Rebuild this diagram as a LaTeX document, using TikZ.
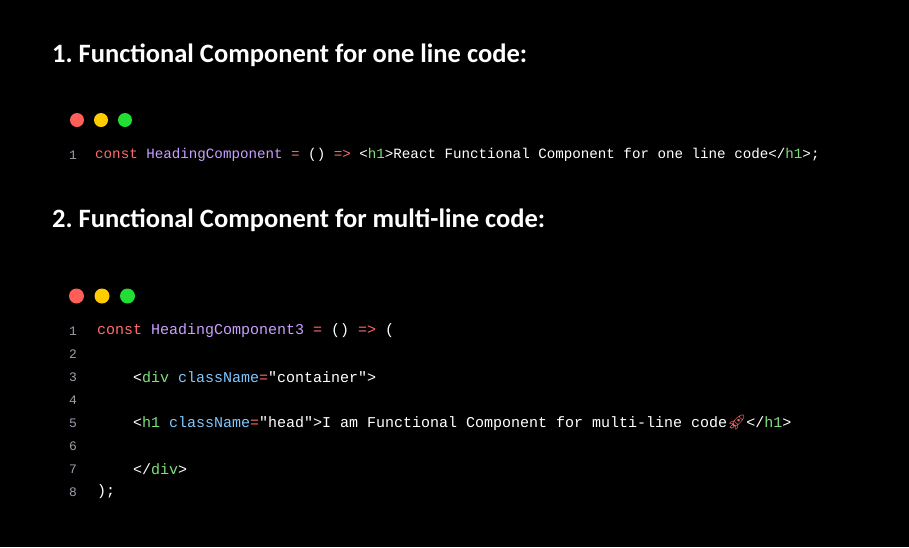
\documentclass[tikz,border=0pt]{standalone}
\usepackage{fontspec}
\setmainfont{Carlito}
\setmonofont{Liberation Mono}
\newfontfamily\emojifont{Noto Emoji}
\usetikzlibrary{positioning}
\definecolor{kwred}{HTML}{FF6B6B}
\definecolor{idpurple}{HTML}{C9A0FF}
\definecolor{taggreen}{HTML}{7EE07A}
\definecolor{attrblue}{HTML}{7FC8FF}
\definecolor{numgray}{HTML}{9AA0AA}
\definecolor{dotred}{HTML}{FF5F57}
\definecolor{dotyellow}{HTML}{FFCC00}
\definecolor{dotgreen}{HTML}{22DD33}
\newcommand{\kw}[1]{\textcolor{kwred}{#1}}
\newcommand{\idn}[1]{\textcolor{idpurple}{#1}}
\newcommand{\tg}[1]{\textcolor{taggreen}{#1}}
\newcommand{\at}[1]{\textcolor{attrblue}{#1}}
\begin{document}
\begin{tikzpicture}[x=1pt,y=-1pt,
  heading/.style={anchor=west,text=white,font=\bfseries\fontsize{26.5}{30}\selectfont,inner sep=0pt},
  lineno/.style={anchor=west,text=numgray,font=\ttfamily\fontsize{13}{15}\selectfont,inner sep=0pt},
  codeline/.style={anchor=west,text=white,font=\ttfamily\fontsize{14.2}{16}\selectfont,inner sep=0pt},
  bigcode/.style={codeline,font=\ttfamily\fontsize{15}{17}\selectfont}]
\fill[black] (0,0) rectangle (909,547);
\useasboundingbox (0,0) rectangle (909,547);
% headings
\node[heading] (h1) at (52,55) {1.\ Functional Component for one line code:};
\node[heading] (h2) at (52,220) {2.\ Functional Component for multi-line code:};
% window dots
\foreach \c [count=\i] in {dotred,dotyellow,dotgreen}{
  \fill[\c] (53+24*\i,120) circle (7);
  \fill[\c] (51+25.5*\i,296) circle (7.5);
}
% one line code
\node[lineno] (n1) at (69,155) {1};
\node[codeline] (c1) at (95,155) {\kw{const} \idn{HeadingComponent} \kw{=} () \kw{=>} <\tg{h1}>React Functional Component for one line code</\tg{h1}>;};
% multi-line code
\foreach \n in {1,...,8}
  \node[lineno] (m\n) at (69,308+23*\n) {\n};
\node[bigcode] (l1) at (97,331) {\kw{const} \idn{HeadingComponent3} \kw{=} () \kw{=>} (};
\node[bigcode] (l3) at (133,377) {<\tg{div} \at{className}\kw{=}"container">};
\node[bigcode] (l5) at (133,423) {<\tg{h1} \at{className}\kw{=}"head">I am Functional Component for multi-line code{\emojifont\textcolor{kwred}{🚀}}</\tg{h1}>};
\node[bigcode] (l7) at (133,469) {</\tg{div}>};
\node[bigcode] (l8) at (97,492) {);};
\end{tikzpicture}
\end{document}
